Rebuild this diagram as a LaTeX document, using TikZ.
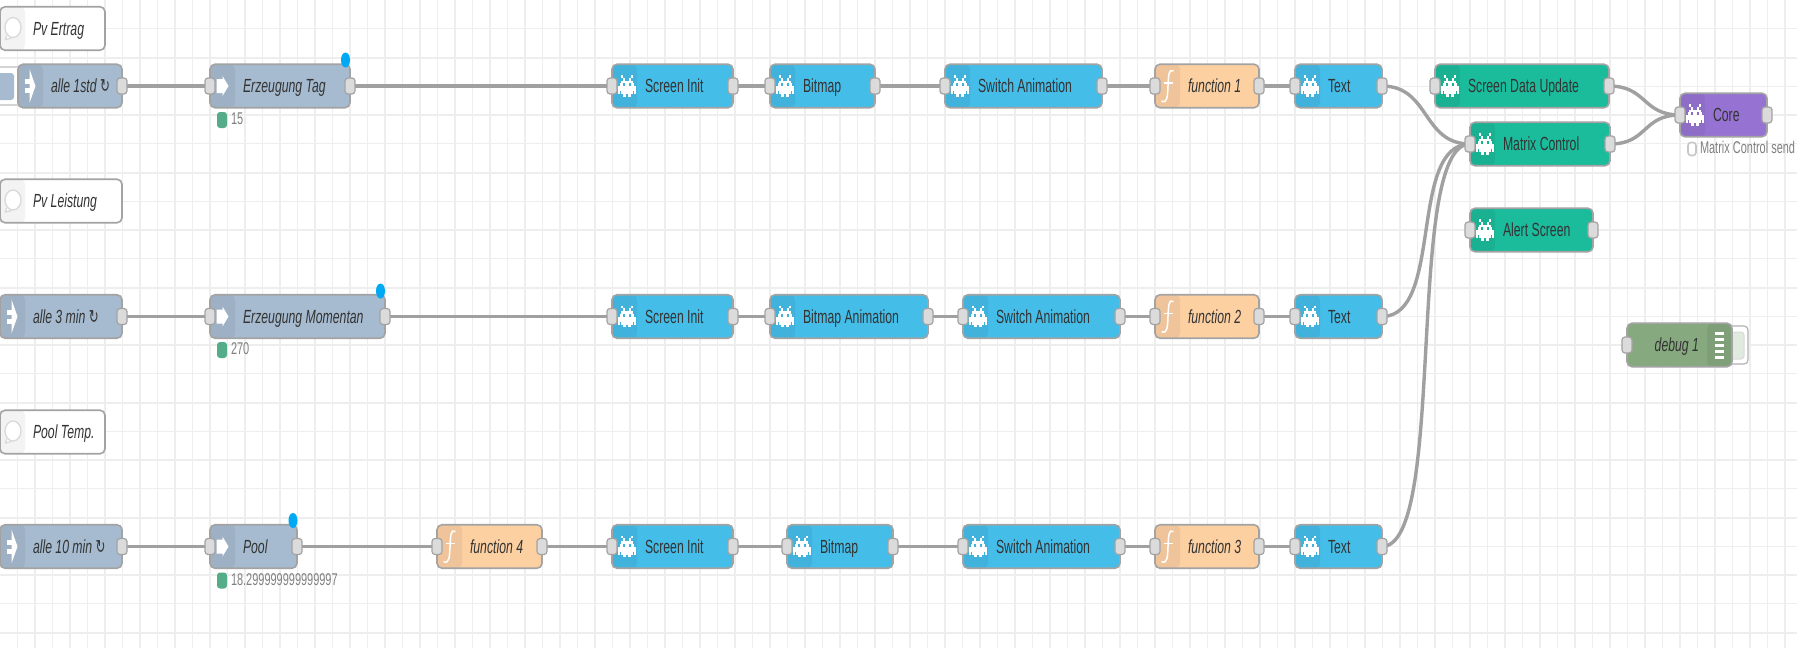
\documentclass[tikz,border=0pt]{standalone}
\usepackage{fontspec}
\setmainfont{Liberation Sans}[FakeStretch=0.645]
\newfontfamily\symf{DejaVu Sans}[FakeStretch=0.62]
\pgfdeclarelayer{bg}
\pgfsetlayers{bg,main}
\definecolor{inj}{HTML}{A6BBCF}\definecolor{injd}{HTML}{9DB0C4}
\definecolor{scr}{HTML}{44BDE8}\definecolor{scrd}{HTML}{41B2DB}
\definecolor{grn}{HTML}{1ABC9C}\definecolor{grnd}{HTML}{1AB092}
\definecolor{pur}{HTML}{9673D2}\definecolor{purd}{HTML}{8D6DC6}
\definecolor{fun}{HTML}{FDD0A2}\definecolor{fund}{HTML}{EFC49B}
\definecolor{dbg}{HTML}{87A980}\definecolor{dbgd}{HTML}{7F9F79}
\definecolor{cmt}{HTML}{FFFFFF}\definecolor{cmtd}{HTML}{F3F3F3}
\definecolor{edge}{HTML}{A3A3A3}\definecolor{wirec}{HTML}{A0A0A0}
\definecolor{gridc}{HTML}{EEEEEE}\definecolor{stat}{HTML}{55AC88}
\definecolor{ink}{HTML}{333333}\definecolor{dot}{HTML}{00A9F4}
\usetikzlibrary{shapes.geometric}
\tikzset{
 x=1pt,y=-1pt,
 nrbody/.style={draw=edge,line width=1.6pt,rounded corners=5pt,anchor=west,minimum height=43.5pt,inner sep=0pt,outer sep=0pt},
 nrlabel/.style={anchor=west,inner sep=0pt,outer sep=0pt,text=ink,text height=14pt,text depth=1pt,font=\fontsize{19}{20}\selectfont},
 portbox/.style={draw=edge,line width=1.2pt,fill=black!14,rounded corners=3pt,minimum width=10pt,minimum height=16pt,inner sep=0pt,outer sep=0pt},
 wire/.style={draw=wirec,line width=3.4pt},
 statlabel/.style={anchor=west,inner sep=0pt,outer sep=0pt,text=black!50,text height=12.5pt,text depth=3pt,font=\fontsize{17}{18}\selectfont},
 statbox/.style={fill=stat,rounded corners=3pt,minimum width=10pt,minimum height=16pt,inner sep=0pt,outer sep=0pt},
 dotmark/.style={ellipse,fill=dot,minimum width=9pt,minimum height=15pt,inner sep=0pt},
 alien/.pic={
  \foreach \r/\a/\b in {0/2/3,0/8/9,1/3/4,1/7/8,2/2/9,3/1/3,3/4/7,3/8/10,4/0/11,5/0/11,6/0/1,6/2/9,6/10/11,7/3/5,7/6/8}
   \fill[white] ({(\a-5.5)*1.6+2.5},{(\r-4)*2.7}) rectangle ({(\b-5.5)*1.6+2.5},{(\r-3)*2.7});
 },
 funcicon/.pic={
  \draw[white,line width=1.5pt] (6,-15) .. controls (1,-18) and (1,-10) .. (0.5,0) .. controls (0,10) and (0,18) .. (-6,15);
  \draw[white,line width=1.3pt] (-4,-3) -- (5,-3);
 },
 injicon/.pic={
  \fill[white] (-1,-17) -- (5,0) -- (-1,17) -- cycle;
  \fill[white] (-6,-7) rectangle (0,-2);
  \fill[white] (-6,2) rectangle (0,7);
 },
 chgicon/.pic={
  \fill[white] (-6,-7) -- (0,-7) -- (0,-10) -- (6,0) -- (0,10) -- (0,7) -- (-6,7) -- cycle;
 },
 bubble/.pic={
  \draw[black!15,line width=1.3pt,fill=white] (-6,7) -- (-7,11) -- (-1,9.5);
  \draw[black!15,line width=1.3pt,fill=white] (0.5,-1) ellipse [x radius=8,y radius=10];
 },
}
\newcommand\nrnode[7]{%
 \pgfmathsetmacro\nrw{#3-#2}%
 \node[nrbody,fill=#5,minimum width=\nrw pt,path picture={\fill[#5d] (path picture bounding box.north west) rectangle ([xshift=25pt]path picture bounding box.south west);}] (#1) at (#2,#4) {};
 \pic at ([xshift=12.5pt]#1.west) {#6};
 \node[nrlabel] (#1-l) at ([xshift=33pt]#1.west) {#7};
}
\newcommand\inport[1]{\node[portbox] (#1-i) at (#1.west) {};}
\newcommand\outport[1]{\node[portbox] (#1-o) at (#1.east) {};}
\newcommand\wire[3][75]{\draw[wire] (#2-o.center) .. controls +(#1,0) and +(-#1,0) .. (#3-i.center);}
\newcommand\sym{{\symf\itshape ↻}}
\begin{document}
\begin{tikzpicture}
\useasboundingbox (0,0) rectangle (1797,648);
\begin{pgfonlayer}{bg}
 \fill[white] (0,0) rectangle (1797,648);
 \foreach \k in {1,...,102} \draw[gridc,line width=1.1pt] ({\k*17.5},0) -- ({\k*17.5},648);
 \foreach \k in {1,...,22} \draw[gridc,line width=1.1pt] (0,{\k*28.75}) -- (1797,{\k*28.75});
 \foreach \k in {2,6,10,14,18,22} \draw[gridc,line width=2pt] (0,{\k*28.75}) -- (1797,{\k*28.75});
\end{pgfonlayer}
% comments
\nrnode{cA}{0}{105}{28.5}{cmt}{bubble}{\itshape Pv Ertrag}
\nrnode{cB}{0}{122}{201}{cmt}{bubble}{\itshape Pv Leistung}
\nrnode{cC}{0}{105}{432}{cmt}{bubble}{\itshape Pool Temp.}
% inject button, row 1
\draw[black!25,line width=1.2pt,fill=white,rounded corners=3pt] (-6,67) rectangle (22,105);
\fill[inj,rounded corners=3pt] (-4,73) rectangle (14,100);
% row 1
\nrnode{inA}{18}{122}{86}{inj}{injicon}{\itshape alle 1std \sym}
\nrnode{chA}{210}{350}{86}{inj}{chgicon}{\itshape Erzeugung Tag}
\nrnode{siA}{612}{733}{86}{scr}{alien}{Screen Init}
\nrnode{bmA}{770}{875}{86}{scr}{alien}{Bitmap}
\nrnode{swA}{945}{1102}{86}{scr}{alien}{Switch Animation}
\nrnode{fnA}{1155}{1259}{86}{fun}{funcicon}{\itshape function 1}
\nrnode{txA}{1295}{1382}{86}{scr}{alien}{Text}
\nrnode{sdu}{1435}{1609}{86}{grn}{alien}{Screen Data Update}
\nrnode{mc}{1470}{1610}{144}{grn}{alien}{Matrix Control}
\nrnode{core}{1680}{1767}{115}{pur}{alien}{Core}
\nrnode{alert}{1470}{1593}{230}{grn}{alien}{Alert Screen}
% row 2
\nrnode{inB}{0}{122}{316.5}{inj}{injicon}{\itshape alle 3 min \sym}
\nrnode{chB}{210}{385}{316.5}{inj}{chgicon}{\itshape Erzeugung Momentan}
\nrnode{siB}{612}{733}{316.5}{scr}{alien}{Screen Init}
\nrnode{bmB}{770}{928}{316.5}{scr}{alien}{Bitmap Animation}
\nrnode{swB}{963}{1120}{316.5}{scr}{alien}{Switch Animation}
\nrnode{fnB}{1155}{1259}{316.5}{fun}{funcicon}{\itshape function 2}
\nrnode{txB}{1295}{1382}{316.5}{scr}{alien}{Text}
% row 3
\nrnode{inC}{0}{122}{546.5}{inj}{injicon}{\itshape alle 10 min \sym}
\nrnode{chC}{210}{297}{546.5}{inj}{chgicon}{\itshape Pool}
\nrnode{fnD}{437}{542}{546.5}{fun}{funcicon}{\itshape function 4}
\nrnode{siC}{612}{733}{546.5}{scr}{alien}{Screen Init}
\nrnode{bmC}{787}{893}{546.5}{scr}{alien}{Bitmap}
\nrnode{swC}{963}{1120}{546.5}{scr}{alien}{Switch Animation}
\nrnode{fnC}{1155}{1259}{546.5}{fun}{funcicon}{\itshape function 3}
\nrnode{txC}{1295}{1382}{546.5}{scr}{alien}{Text}
% debug
\draw[black!30,line width=1.2pt,fill=white,rounded corners=4pt] (1726,326) rectangle (1748,364);
\draw[black!15,line width=1pt,fill=dbg!25,rounded corners=3pt] (1726,332) rectangle (1744,359);
\node[nrbody,fill=dbg,minimum width=105pt,path picture={\fill[dbgd] (path picture bounding box.north east) rectangle ([xshift=-25pt]path picture bounding box.south east);}] (dbg) at (1627,345) {};
\node[nrlabel,anchor=east] (dbg-l) at ([xshift=-33pt]dbg.east) {\itshape debug 1};
\foreach \yy in {332,338,344,350,356} \fill[white] (1715,\yy) rectangle (1724,\yy+3.4);
% ports
\foreach \n in {inA,chA,siA,bmA,swA,fnA,txA,sdu,mc,alert,core,inB,chB,siB,bmB,swB,fnB,txB,inC,chC,fnD,siC,bmC,swC,fnC,txC} {\outport{\n}}
\foreach \n in {chA,siA,bmA,swA,fnA,txA,sdu,mc,alert,core,chB,siB,bmB,swB,fnB,txB,chC,fnD,siC,bmC,swC,fnC,txC,dbg} {\inport{\n}}
% status
\node[statbox] (stA) at (222,120) {};
\node[statlabel] (stAl) at (231,120) {15};
\node[statbox] (stB) at (222,350) {};
\node[statlabel] (stBl) at (231,350) {270};
\node[statbox] (stC) at (222,580.5) {};
\node[statlabel] (stCl) at (231,580.5) {18.299999999999997};
\node[statbox,fill=white,draw=black!22,line width=1.6pt,minimum width=8pt,minimum height=13pt] (stD) at (1692,149) {};
\node[statlabel] (stDl) at (1700,149) {Matrix Control send};
% changed-state dots
\node[dotmark] (dA) at (345.5,60) {};
\node[dotmark] (dB) at (380.5,291) {};
\node[dotmark] (dC) at (293,520.5) {};
% wires
\begin{pgfonlayer}{bg}
 \wire{inA}{chA}\wire{chA}{siA}\wire{siA}{bmA}\wire{bmA}{swA}\wire{swA}{fnA}\wire{fnA}{txA}
 \wire[48]{txA}{mc}\wire[38]{sdu}{core}\wire[38]{mc}{core}
 \wire{inB}{chB}\wire{chB}{siB}\wire{siB}{bmB}\wire{bmB}{swB}\wire{swB}{fnB}\wire{fnB}{txB}\wire[62]{txB}{mc}
 \wire{inC}{chC}\wire{chC}{fnD}\wire{fnD}{siC}\wire{siC}{bmC}\wire{bmC}{swC}\wire{swC}{fnC}\wire{fnC}{txC}\wire[66]{txC}{mc}
\end{pgfonlayer}
\end{tikzpicture}
\end{document}
